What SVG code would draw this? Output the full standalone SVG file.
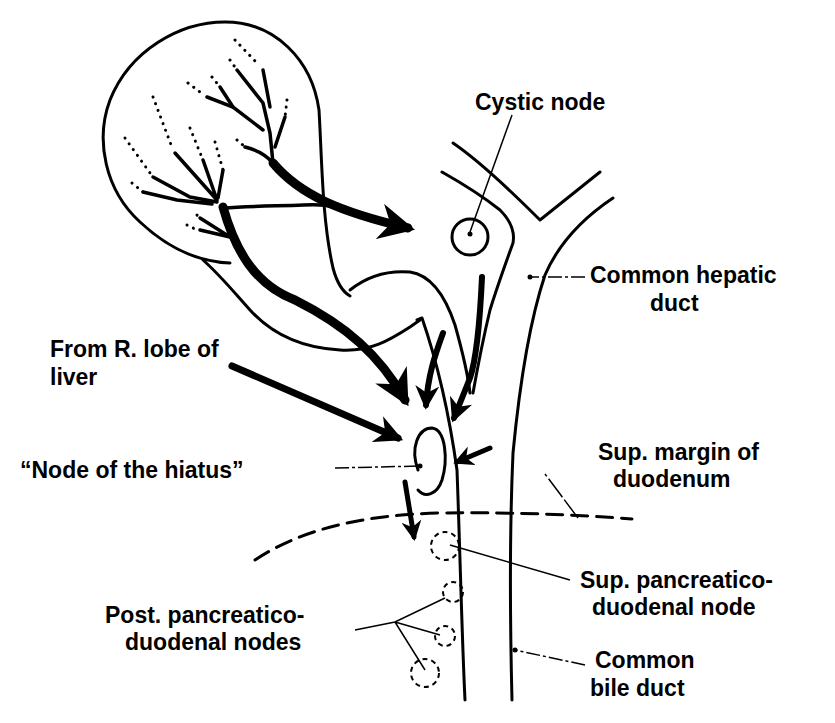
<svg xmlns="http://www.w3.org/2000/svg" width="835" height="723" viewBox="0 0 835 723">
<style>
.o{fill:none;stroke:#000;stroke-width:3;stroke-linecap:round;stroke-linejoin:round}
.b{fill:none;stroke:#000;stroke-width:3.5;stroke-linecap:round}
.d{fill:none;stroke:#000;stroke-width:3;stroke-linecap:round;stroke-dasharray:0.1 7}
.a{fill:none;stroke:#000;stroke-linecap:round}
.l{fill:none;stroke:#000;stroke-width:1.5}
.dn{fill:none;stroke:#000;stroke-width:2;stroke-dasharray:5 4}
text{font-family:"Liberation Sans",Arial,sans-serif;font-size:23px;font-weight:bold;fill:#000}
</style>
<defs>
<marker id="ah" viewBox="0 0 10 10" refX="8" refY="5" markerWidth="4" markerHeight="4" orient="auto" markerUnits="strokeWidth"><path d="M0,0 L10,5 L0,10 L3,5 Z" fill="#000"/></marker>
</defs>
<g id="gallbladder">
<path class="o" d="M230,263 C200,262 170,250 140,222 C105,190 95,140 110,100 C130,50 180,22 225,22 C275,22 312,60 319,110 C322,160 322,220 333,268 C337,283 343,292 350,296"/>
<path class="o" d="M203,260 C220,275 232,290 250,310 C270,332 300,348 340,350 C370,352 390,340 410,327 L420,320"/>
<path class="o" d="M350,290 C365,278 385,270 410,272 C430,275 445,295 455,325 C462,350 468,375 470,393"/>
</g>
<g id="tree">
<path class="b" d="M273,163 L270,133 L263,103 L237,70"/>
<path class="b" d="M263,70 L270,107"/>
<path class="b" d="M207,97 L233,107 L263,130"/>
<path class="b" d="M220,87 L233,107"/>
<path class="b" d="M275,147 L285,117"/>
<path class="b" d="M245,147 C258,150 267,156 273,163"/>
<path class="d" d="M235,40 L257,63 M230,60 L237,70 M188,83 L200,92 M212,77 L220,87 M287,100 L285,117 M237,140 L245,147"/>
<path class="b" d="M175,153 L217,200 M203,160 L217,200 M223,170 L218,198 M153,177 L190,197 L217,202 M143,192 L177,200 L212,204"/>
<path class="b" d="M223,208 C250,206 280,206 303,205 C320,204 330,205 345,210"/>
<path class="b" d="M200,218 L230,237 M200,230 L230,237"/>
<path class="d" d="M153,97 L173,150 M190,128 L203,160 M215,142 L223,170 M125,138 L150,173 M132,183 L143,192 M187,225 L197,230 M197,215 L200,218"/>
</g>
<g id="ducts">
<path class="o" d="M453,143 C475,158 500,180 540,220 L600,172"/>
<path class="o" d="M442,172 C465,185 485,198 500,210 C510,220 515,232 513,243 C505,265 497,287 490,310 C484,335 478,365 473,393"/>
<path class="o" d="M613,198 C580,220 558,245 545,275 C530,320 520,380 513,453 C510,520 510,620 512,700"/>
<path class="o" d="M417,320 L422,318 C440,370 450,420 457,470 C460,550 462,640 465,700"/>
</g>
<g id="cystic-node"><circle class="o" cx="470" cy="237" r="18"/></g>
<g id="hiatus-node"><path class="o" d="M418,470 C410,448 418,428 432,428 C446,430 448,460 442,480 C437,495 425,498 418,490"/></g>
<g id="post-nodes">
<circle class="dn" cx="445" cy="546" r="14"/>
<circle class="dn" cx="453" cy="592" r="10"/>
<circle class="dn" cx="445" cy="636" r="10"/>
<circle class="dn" cx="425" cy="673" r="14"/>
</g>
<g id="connectors">
<path class="a" stroke-width="9" marker-end="url(#ah)" d="M273,163 C300,195 340,212 408,228"/>
<path class="a" stroke-width="9" marker-end="url(#ah)" d="M223,207 C235,250 255,285 295,300 C345,325 380,355 405,400"/>
<path class="a" stroke-width="7" marker-end="url(#ah)" d="M232,366 L398,438"/>
<path class="a" stroke-width="6" marker-end="url(#ah)" d="M443,333 C435,355 428,375 426,405"/>
<path class="a" stroke-width="6" marker-end="url(#ah)" d="M482,277 C480,320 476,360 470,378 L454,418"/>
<path class="a" stroke-width="5" marker-end="url(#ah)" d="M490,448 L457,462"/>
<path class="a" stroke-width="5" marker-end="url(#ah)" d="M405,482 L414,537"/>
<path class="a" stroke-width="3" stroke-dasharray="16 9" stroke-linecap="butt" d="M255,560 C300,530 360,515 440,513 C520,512 580,515 632,519"/>
<path class="l" d="M512,115 L470,232"/><circle cx="470" cy="234" r="2.5"/>
<path class="l" d="M585,277 L530,277" stroke-dasharray="14 3 3 3"/><circle cx="530" cy="277" r="2.5"/>
<path class="l" d="M335,468 L420,466" stroke-dasharray="14 3 3 3"/><circle cx="420" cy="466" r="2.5"/>
<path class="l" d="M545,474 L578,518" stroke-dasharray="3 3 20 0"/>
<path class="l" d="M570,580 L450,545"/>
<path class="l" d="M355,630 L395,622 L445,598 M395,622 L440,635 M395,622 L425,670"/>
<path class="l" d="M585,665 L515,650" stroke-dasharray="14 3 3 3"/><circle cx="515" cy="650" r="2.5"/>
</g>
<g id="labels">
<text x="475" y="110">Cystic node</text>
<text x="590" y="283">Common hepatic</text>
<text x="650" y="311">duct</text>
<text x="50" y="357">From R. lobe of</text>
<text x="50" y="385">liver</text>
<text x="598" y="460">Sup. margin of</text>
<text x="613" y="487">duodenum</text>
<text x="20" y="478">“Node of the hiatus”</text>
<text x="580" y="588">Sup. pancreatico-</text>
<text x="592" y="615">duodenal node</text>
<text x="105" y="623">Post. pancreatico-</text>
<text x="125" y="650">duodenal nodes</text>
<text x="595" y="668">Common</text>
<text x="590" y="696">bile duct</text>
</g>
</svg>
